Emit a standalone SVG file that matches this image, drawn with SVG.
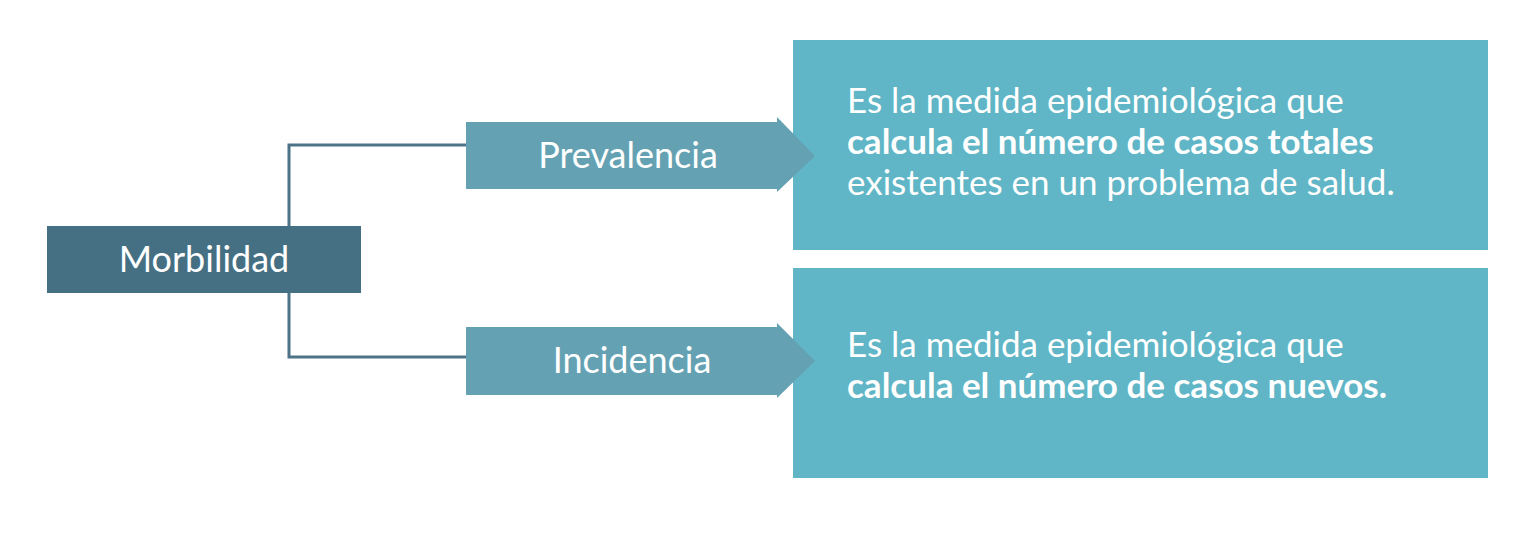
<svg xmlns="http://www.w3.org/2000/svg" width="1536" height="538" viewBox="0 0 1536 538">
<style>
.t{font-family:Lato,"Open Sans","Liberation Sans",sans-serif;fill:#ffffff}
.lbl{font-size:36px;text-anchor:middle}
.desc{font-size:35px}
.b{font-weight:bold}
.conn{fill:none;stroke:#4d7389;stroke-width:3}
</style>
<rect width="1536" height="538" fill="#ffffff"/>
<g id="connectors">
<path class="conn" d="M466 145 H289 V357 H466"/>
</g>
<g id="morbilidad">
<rect x="47" y="226" width="314" height="67" fill="#456f83"/>
<text class="t lbl" x="204" y="272">Morbilidad</text>
</g>
<g id="desc-prevalencia">
<rect x="793" y="40" width="695" height="210" fill="#60b6c6"/>
<text class="t desc" x="847" y="113">Es la medida epidemiológica que</text>
<text class="t desc b" x="847" y="154">calcula el número de casos totales</text>
<text class="t desc" x="847" y="195">existentes en un problema de salud.</text>
</g>
<g id="desc-incidencia">
<rect x="793" y="268" width="695" height="210" fill="#60b6c6"/>
<text class="t desc" x="847" y="357">Es la medida epidemiológica que</text>
<text class="t desc b" x="847" y="398">calcula el número de casos nuevos.</text>
</g>
<g id="prevalencia">
<path d="M466 122 H777 V117 L815 156 L777 192 V189 H466 Z" fill="#64a2b3"/>
<text class="t lbl" x="628" y="168">Prevalencia</text>
</g>
<g id="incidencia">
<path d="M466 327 H777 V323 L815 361 L777 398 V395 H466 Z" fill="#64a2b3"/>
<text class="t lbl" x="632" y="373">Incidencia</text>
</g>
</svg>
